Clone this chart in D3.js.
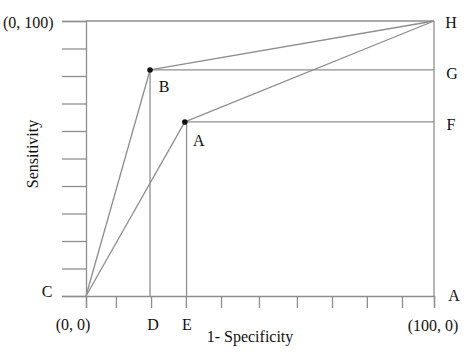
<!DOCTYPE html>
<html><head><meta charset="utf-8">
<script src="https://cdn.jsdelivr.net/npm/d3@7/dist/d3.min.js"></script>
<style>body{margin:0;background:#fff}text{font-family:"Liberation Serif","Times New Roman",serif;font-size:16px;fill:#111}</style>
</head><body><svg id="c" width="474" height="356"></svg>
<script>
// points in (1-specificity, sensitivity) percent
const pointNames = ["C", "B", "A", "H"];
const pointX = [0, 18.4, 28.4, 100];
const pointY = [0, 82.2, 63.3, 100];
const xTicks = [0, 8.6, 18.7, 28.7, 38.8, 49.7, 60.6, 70.7, 80.7, 90.8, 100];
const yTicks = [0, 10, 20, 30, 40, 50, 60, 70, 80, 90, 100];

const svg = d3.select("#c");
const x = d3.scaleLinear().domain([0, 100]).range([86, 434]);
const y = d3.scaleLinear().domain([0, 100]).range([296, 21]);
const grey = "#8e8e8e";
const P = {};
pointNames.forEach((n, i) => P[n] = [pointX[i], pointY[i]]);

// axes
const ga = svg.append("g").attr("transform", `translate(${x(0)},0)`)
  .call(d3.axisLeft(y).tickValues(yTicks).tickSize(24).tickFormat(""));
const gb = svg.append("g").attr("transform", `translate(0,${y(0)})`)
  .call(d3.axisBottom(x).tickValues(xTicks).tickSize(12).tickFormat(""));
[ga, gb].forEach(g => { g.select(".domain").attr("stroke", grey).attr("stroke-width", 1.3);
  g.selectAll(".tick line").attr("stroke", grey).attr("stroke-width", 1.3); });

const line = (a, b) => svg.append("line")
  .attr("x1", x(a[0])).attr("y1", y(a[1])).attr("x2", x(b[0])).attr("y2", y(b[1]))
  .attr("stroke", grey).attr("stroke-width", 1.3);

line([0, 100], [100, 100]);
line([100, 0], [100, 100]);
line(P.C, P.B); line(P.B, P.H); line(P.C, P.A); line(P.A, P.H);
line(P.B, [P.B[0], 0]); line(P.B, [100, P.B[1]]);
line([P.A[0] + 0.5, P.A[1]], [P.A[0] + 0.5, 0]); line([P.A[0] + 0.5, P.A[1]], [100, P.A[1]]);

[P.B, P.A].forEach(p => svg.append("circle").attr("cx", x(p[0])).attr("cy", y(p[1])).attr("r", 2.8).attr("fill", "#111"));

const t = (s, px, py, anchor = "middle") => svg.append("text").attr("x", px).attr("y", py)
  .attr("text-anchor", anchor).text(s);
t("(0, 100)", 3, 28, "start");
t("H", 451, 28);
t("G", 452, 79);
t("F", 451, 130);
t("A", 454, 301);
t("C", 47, 297);
t("B", x(P.B[0]) + 14, y(P.B[1]) + 22);
t("A", x(P.A[0]) + 14, y(P.A[1]) + 24);
t("(0, 0)", 73, 330);
t("D", x(P.B[0]) + 3, 330);
t("E", x(P.A[0]) + 2, 330);
t("(100, 0)", 433, 331);
t("1- Specificity", 250, 342);
svg.append("text").attr("transform", "translate(38,154) rotate(-90)").attr("text-anchor", "middle").text("Sensitivity");
</script></body></html>
